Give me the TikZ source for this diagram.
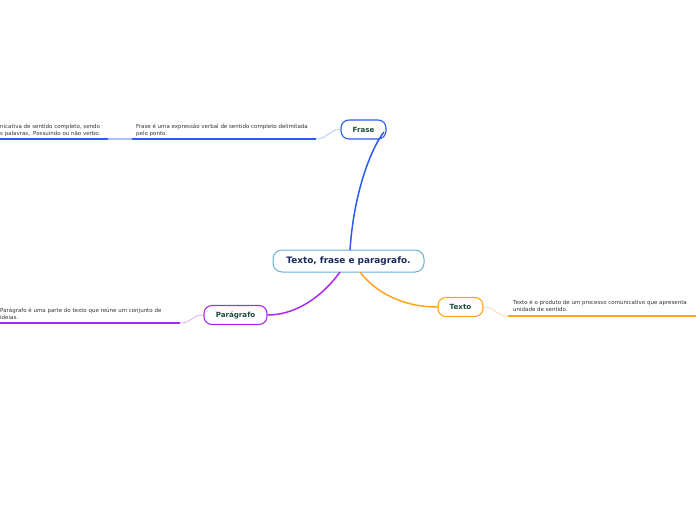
\documentclass[tikz,border=0pt]{standalone}
\usepackage{fontspec}
\setmainfont{DejaVu Sans}
\definecolor{navy}{HTML}{1A2B5C}
\definecolor{nodegreen}{HTML}{1D4A3C}
\definecolor{notegray}{HTML}{333333}
\definecolor{cblue}{HTML}{6AAEE0}
\definecolor{fblue}{HTML}{2A5CF0}
\definecolor{fblueL}{HTML}{A9C0F8}
\definecolor{ppurple}{HTML}{A92AF2}
\definecolor{ppurpleL}{HTML}{D9A6F8}
\definecolor{torange}{HTML}{FFA41C}
\definecolor{torangeL}{HTML}{FFD79A}
\begin{document}
\begin{tikzpicture}[x=1pt,y=-1pt,
  topic/.style={draw, line width=1.1pt, rounded corners=8pt, font=\bfseries\fontsize{7.1}{8}\selectfont, text=nodegreen, fill=white, inner sep=0pt, minimum height=19pt},
  note/.style={font=\fontsize{5.5}{7}\selectfont, text=notegray, align=left, inner sep=0pt, anchor=base west},
  branch/.style={line width=1.5pt},
  under/.style={line width=1.8pt},
  thin/.style={line width=0.7pt},
]
\useasboundingbox (0,0) rectangle (696,520);
\fill[white] (0,0) rectangle (696,520);

% central
\node[draw=cblue, line width=1pt, rounded corners=9pt, minimum width=151pt, minimum height=22pt, inner sep=0pt, font=\bfseries\fontsize{8.9}{10}\selectfont, text=navy] (c) at (348.5,261) {Texto, frase e paragrafo.};

% topics
\node[topic, draw=fblue, minimum width=45pt] (f) at (363.5,129.5) {Frase};
\node[topic, draw=ppurple, minimum width=63pt] (p) at (235.5,315) {Parágrafo};
\node[topic, draw=torange, minimum width=45pt] (t) at (460.5,307) {Texto};

% coordinates
\coordinate (fa) at (316,139);
\coordinate (fb) at (132,139);
\coordinate (fc) at (108,139);
\coordinate (fd) at (0,139);
\coordinate (pa) at (180,323);
\coordinate (pb) at (0,323);
\coordinate (ta) at (508,316);
\coordinate (tb) at (696,316);
\coordinate (cf) at (350,250);
\coordinate (cp) at (340,272);
\coordinate (ct) at (360,272);
\coordinate (fe) at (384,132);

% central connectors
\draw[branch, fblue] (cf) .. controls +(4,-60) and +(-12,15) .. (fe);
\draw[branch, ppurple] (cp) .. controls +(-18,25) and +(28,0) .. (p.east);
\draw[branch, torange] (ct) .. controls +(15,20) and +(-35,0) .. (t.west);

% frase branch
\draw[thin, fblueL] (f.west) .. controls +(-12,0) and +(12,0) .. (fa);
\draw[under, fblue] (fa) -- (fb);
\draw[thin, fblueL, line width=1.2pt] (fb) -- (fc);
\draw[under, fblue] (fc) -- (fd);
\node[note] (fn) at (136,135.5) {Frase é uma expressão verbal de sentido completo delimitada\\pelo ponto.};
\node[note] (on1) at (0,128) {nicativa de sentido completo, sendo};
\node[note] (on2) at (0,135) {s palavras,};
\node[note] (on3) at (33,135.7) {Possuindo ou não verbo.};

% paragrafo branch
\draw[thin, ppurpleL] (p.west) .. controls +(-12,0) and +(12,0) .. (pa);
\draw[under, ppurple] (pa) -- (pb);
\node[note] (pn) at (0,319.5) {Parágrafo é uma parte do texto que reúne um conjunto de\\ideias.};

% texto branch
\draw[thin, torangeL] (t.east) .. controls +(12,0) and +(-12,0) .. (ta);
\draw[under, torange] (ta) -- (tb);
\node[note] (tn) at (513,311.5) {Texto é o produto de um processo comunicativo que apresenta\\unidade de sentido.};
\end{tikzpicture}
\end{document}
